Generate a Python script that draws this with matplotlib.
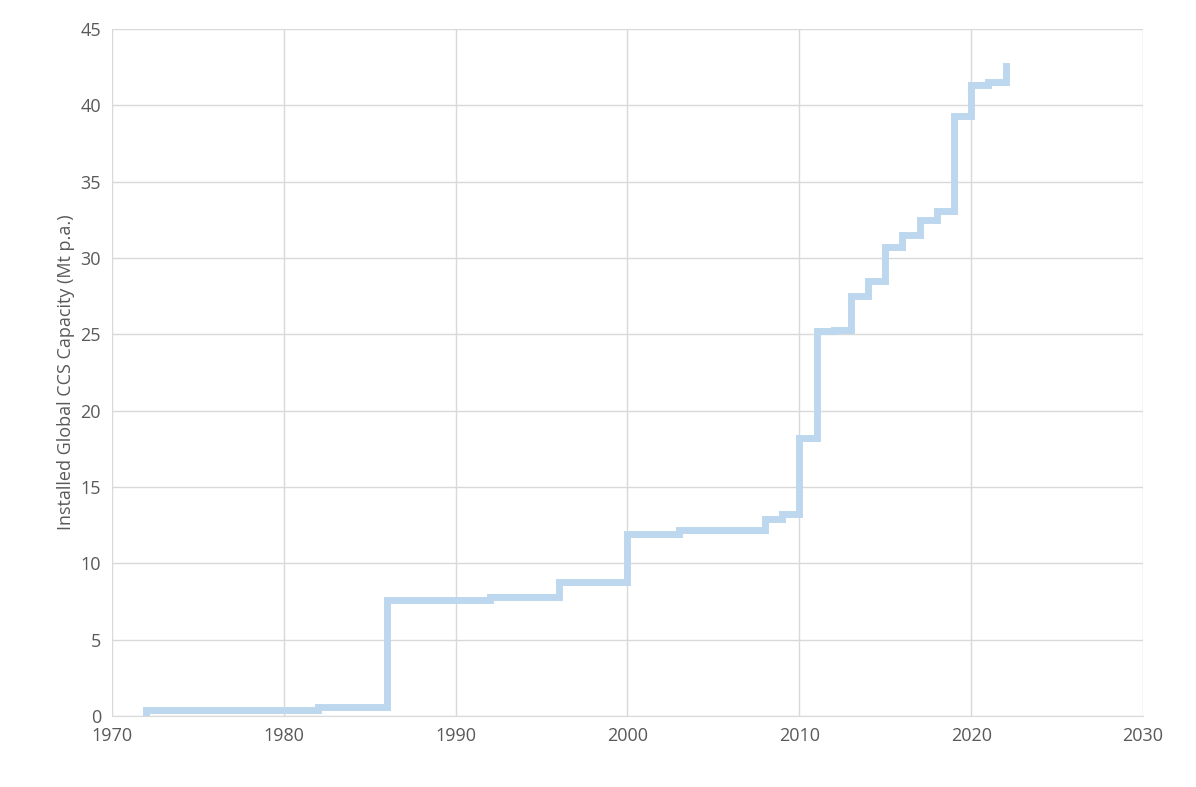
import matplotlib
matplotlib.use("Agg")
import matplotlib.pyplot as plt

years = [1972, 1972, 1982, 1986, 1992, 1996, 2000, 2003, 2008, 2009, 2010, 2011, 2012, 2013, 2014, 2015, 2016, 2017, 2018, 2019, 2020, 2021, 2022]
capacity = [0, 0.4, 0.6, 7.6, 7.8, 8.8, 11.9, 12.2, 12.9, 13.2, 18.2, 25.2, 25.3, 27.5, 28.5, 30.7, 31.5, 32.5, 33.1, 39.3, 41.3, 41.5, 42.6]

plt.rcParams['font.family'] = ['Open Sans', 'DejaVu Sans']
fig = plt.figure(figsize=(11.96, 7.87), dpi=100)
ax = fig.add_axes([112/1196, 1-716/787, (1143-112)/1196, (716-29)/787])
ax.plot(years, capacity, drawstyle='steps-post', color='#BDD7EE', lw=5, solid_joinstyle='miter')
ax.set_xlim(1970, 2030)
ax.set_ylim(0, 45)
ax.set_xticks(range(1970, 2031, 10))
ax.set_yticks(range(0, 46, 5))
ax.grid(True, color='#D9D9D9', lw=1)
ax.set_axisbelow(True)
for s in ['top', 'right', 'left']:
    ax.spines[s].set_visible(False)
ax.spines['bottom'].set_color('#D9D9D9')
ax.tick_params(length=0, labelsize=13, colors='#595959', pad=8)
ax.set_ylabel('Installed Global CCS Capacity (Mt p.a.)', fontsize=13, color='#595959')
fig.savefig('out.png')
